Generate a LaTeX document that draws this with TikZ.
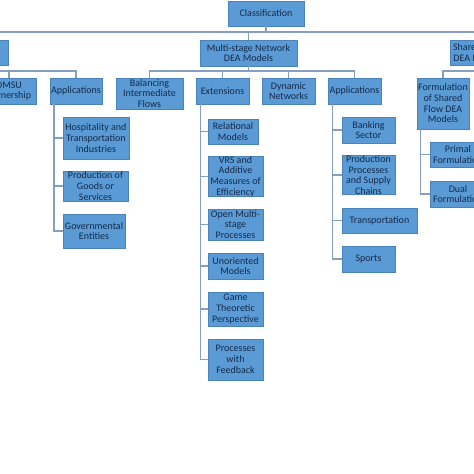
\documentclass[tikz,border=0pt]{standalone}
\usepackage{fontspec}
\setmainfont{Carlito}
\definecolor{boxfill}{HTML}{5B9BD5}
\definecolor{boxline}{HTML}{4A83BB}
\definecolor{boxtext}{HTML}{142A4A}
\definecolor{linkc}{HTML}{859FC0}
\tikzset{
  box/.style={draw=boxline, line width=0.7pt, fill=boxfill, text=boxtext,
    inner sep=0pt, align=center, font=\fontsize{10}{10.7}\selectfont},
  link/.style={draw=linkc, line width=1.5pt},
  toplink/.style={draw=linkc, line width=2pt}
}
\newcommand{\bx}[6]{%
  \pgfmathsetmacro{\bxx}{(#2+#3)/2}%
  \pgfmathsetmacro{\bxy}{-(#4+#5)/2}%
  \pgfmathsetmacro{\bxw}{#3-#2}%
  \pgfmathsetmacro{\bxh}{#5-#4}%
  \node[box, minimum width=\bxw pt, minimum height=\bxh pt] (#1) at (\bxx pt,\bxy pt) {#6};}
\begin{document}
\begin{tikzpicture}
\useasboundingbox (0pt,0pt) rectangle (474pt,-474pt);
\clip (0pt,0pt) rectangle (474pt,-474pt);
\fill[white] (0pt,0pt) rectangle (474pt,-474pt);
% level 0 and 1
\bx{cls}{228}{304}{1}{26}{Classification}
\bx{l0}{-60}{8}{40}{65}{}
\bx{msn}{200}{297}{40}{66}{Multi-stage Network\\DEA Models}
\bx{shared}{450}{506}{40}{65}{Shared Flow\\DEA Models}
% level 2
\bx{dmsu}{-18}{36}{78}{104}{DMSU\\Ownership}
\bx{app1}{50}{102}{78}{104}{Applications}
\bx{bal}{116}{183}{78}{109}{Balancing\\Intermediate\\Flows}
\bx{ext}{196}{249}{78}{104}{Extensions}
\bx{dyn}{262}{315}{78}{104}{Dynamic\\Networks}
\bx{app2}{328}{381}{78}{104}{Applications}
\bx{form}{417}{469}{78}{129}{Formulation\\of Shared\\Flow DEA\\Models}
% level 3: applications (left)
\bx{hosp}{63}{129}{117}{159}{Hospitality and\\Transportation\\Industries}
\bx{prod}{63}{128}{171}{201}{Production of\\Goods or\\Services}
\bx{gov}{63}{125}{214}{248}{Governmental\\Entities}
% extensions
\bx{rel}{208}{258}{119}{144}{Relational\\Models}
\bx{vrs}{208}{263}{157}{196}{VRS and\\Additive\\Measures of\\Efficiency}
\bx{open}{208}{263}{209}{240}{Open Multi-\\stage\\Processes}
\bx{unor}{208}{263}{253}{279}{Unoriented\\Models}
\bx{game}{208}{263}{292}{326}{Game\\Theoretic\\Perspective}
\bx{proc}{208}{263}{339}{380}{Processes\\with\\Feedback}
% applications (right)
\bx{bank}{342}{395}{117}{143}{Banking\\Sector}
\bx{pps}{342}{395}{156}{194}{Production\\Processes\\and Supply\\Chains}
\bx{trans}{342}{417}{208}{233}{Transportation}
\bx{sports}{342}{395}{246}{272}{Sports}
% shared flow
\bx{primal}{430}{486}{142}{167}{Primal\\Formulation}
\bx{dual}{430}{486}{181}{207}{Dual\\Formulation}
% buses
\coordinate (tb) at (0pt,-32pt);
\coordinate (mb) at (0pt,-71pt);
\draw[toplink] (l0.north |- tb) -- (shared.north |- tb);
\foreach \n in {cls.south, l0.north, msn.north, shared.north}
  \draw[link] (\n) -- (\n |- tb);
% left branch
\draw[link] (l0.south) -- (l0.south |- mb) -| (app1.north);
\draw[link] (dmsu.north) -- (dmsu.north |- mb);
% multi-stage branch
\draw[link] (bal.north) -- (bal.north |- mb) -| (app2.north);
\foreach \n in {msn.south, ext.north, dyn.north}
  \draw[link] (\n) -- (\n |- mb);
% shared branch
\draw[link] (shared.south) -- (shared.south |- mb) -| (form.north);
% vertical lists
\coordinate (s1) at ([xshift=4.5pt]app1.south west);
\draw[link] (s1) |- (gov.west);
\foreach \n in {hosp, prod} \draw[link] (\n.west) -- (\n.west -| s1);
\coordinate (s2) at ([xshift=5pt]ext.south west);
\draw[link] (s2) |- (proc.west);
\foreach \n in {rel, vrs, open, unor, game} \draw[link] (\n.west) -- (\n.west -| s2);
\coordinate (s3) at ([xshift=5pt]app2.south west);
\draw[link] (s3) |- (sports.west);
\foreach \n in {bank, pps, trans} \draw[link] (\n.west) -- (\n.west -| s3);
\coordinate (s4) at ([xshift=4pt]form.south west);
\draw[link] (s4) |- (dual.west);
\draw[link] (primal.west) -- (primal.west -| s4);
\end{tikzpicture}
\end{document}
